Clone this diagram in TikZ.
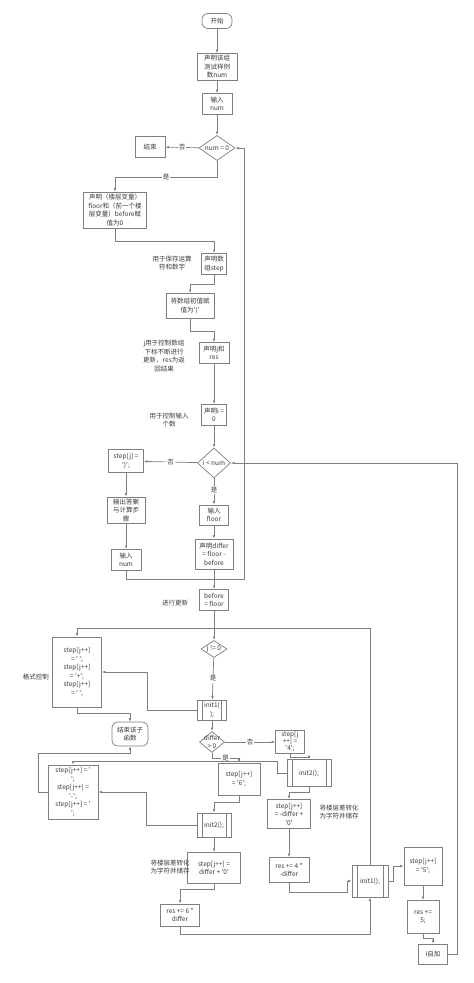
\documentclass[tikz,border=0pt]{standalone}
\usepackage{fontspec}
\setmainfont{Noto Sans CJK SC}[Ligatures=TeXOff]
\usepackage{tikz}
\usetikzlibrary{positioning,arrows.meta,calc,shapes.geometric}
\definecolor{colLinea}{HTML}{7F7F7F}
\definecolor{colTexto}{HTML}{3A3A3A}

\begin{document}
\begin{tikzpicture}[
  x=1pt, y=-1pt,
  font=\fontsize{6.5}{8.5}\selectfont,
  text=colTexto,
  >={Latex[length=3.5pt,width=2.6pt]},
  sz/.style 2 args={minimum width=#1pt, minimum height=#2pt},
  box/.style={
    rectangle, draw=colLinea, fill=white, line width=0.7pt,
    align=center, inner sep=1pt
  },
  term/.style={box, rounded corners=6pt},
  decision/.style={diamond, draw=colLinea, fill=white, line width=0.7pt, inner sep=0pt},
  subproc/.style={
    box,
    path picture={
      \draw[colLinea, line width=0.7pt]
        ([xshift=5pt]path picture bounding box.north west) -- ([xshift=5pt]path picture bounding box.south west)
        ([xshift=-5pt]path picture bounding box.north east) -- ([xshift=-5pt]path picture bounding box.south east);
    }
  },
  note/.style={align=center, inner sep=0pt},
  yn/.style={fill=white, inner sep=1pt},
  arr/.style={->, draw=colLinea, line width=0.7pt}
]
  \useasboundingbox (0,0) rectangle (474,983);

  % entrada
  \node[term, sz={30}{15}] (start) at (217,21) {开始};
  \node[box, sz={40}{27}] (decl) at (217,67) {声明该组\\测试样例\\数num};
  \node[box, sz={30}{21}] (inpnum) at (217,104) {输入\\num};
  \node[decision, sz={36}{25}, label=center:{num = 0}] (dnum) at (217,148) {};
  \node[box, sz={30}{21}] (fin) at (150,147) {结束};

  % variables
  \node[box, sz={63}{36}] (declfloor) at (115,210) {声明（楼层变量）\\floor和（前一个楼\\层变量）before赋\\值为0};
  \node[box, sz={25}{21}] (declstep) at (214,264) {声明数\\组step};
  \node[note] (noteStep) at (172,263) {用于保存运算\\符和数字};
  \node[box, sz={48}{25}] (initstep) at (190,306) {将数组初值赋\\值为'('};
  \node[box, sz={30}{21}] (declj) at (214,353) {声明j和\\res};
  \node[note] (noteJ) at (164,356) {j用于控制数组\\下标不断进行\\更新，res为返\\回结果};
  \node[box, sz={25}{21}] (decli) at (214,415) {声明i =\\0};
  \node[note] (noteI) at (169,420) {用于控制输入\\个数};

  % bucle i < num
  \node[decision, sz={33}{30}, label=center:{i < num}] (dinum) at (214,463) {};
  \node[box, sz={35}{23}] (stepclose) at (126,461) {step[j] =\\')';};
  \node[box, sz={38}{26}] (output) at (126,510) {输出答案\\与计算步\\骤};
  \node[box, sz={30}{21}] (inpnum2) at (126,560) {输入\\num};
  \node[box, sz={29}{20}] (inpfloor) at (214,515) {输入\\floor};
  \node[box, sz={38}{30}] (differ) at (214,554) {声明differ\\= floor -\\before};
  \node[box, sz={29}{21}] (before) at (214,600) {before\\= floor};
  \node[note] (noteUpd) at (175,603) {进行更新};
  \coordinate (loopNum) at (244,579);

  % j != 0
  \node[decision, sz={26}{17}, label=center:{j != 0}] (djz) at (214,649) {};
  \node[subproc, sz={29}{20}] (init1a) at (212,710) {init1(\\);};
  \node[box, sz={49}{70}] (fmt) at (77,672) {step[j++]\\= ' ';\\step[j++]\\= '+';\\step[j++]\\= ' ';};
  \node[note] (noteFmt) at (36,677) {格式控制};
  \node[term, sz={36}{24}] (endsub) at (130,734) {结束该子\\函数};
  \coordinate (loopInit) at (370,628);

  % differ > 0
  \node[decision, sz={25}{21}, label={[align=center]center:{differ\\> 0}}] (dpos) at (212,742) {};
  \node[box, sz={29}{21}, font=\fontsize{6.5}{7}\selectfont] (step4) at (290,742) {step[j\\++] =\\'4';};
  \node[subproc, sz={44}{27}] (init2a) at (309,773) {init2();};
  \node[box, sz={42}{32}] (step6) at (239,779) {step[j++]\\= '6';};
  \node[box, sz={43}{29}] (stepneg) at (289,814) {step[j++]\\= -differ +\\'0'};
  \node[note, align=left] (noteNeg) at (339,812) {将楼层差转化\\为字符并储存};
  \node[subproc, sz={34}{24}] (init2b) at (214,825) {init2();};
  \node[box, sz={50}{54}] (stepleft) at (73,792) {step[j++] = '\\';\\step[j++] =\\'-';\\step[j++] = '\\';};
  \node[box, sz={53}{31}] (stepdif) at (214,868) {step[j++] =\\differ + '0'};
  \node[note] (noteDif) at (170,867) {将楼层差转化\\为字符并储存};
  \node[box, sz={39}{22}] (res6) at (180,915) {res += 6 *\\differ};
  \node[box, sz={40}{25}] (res4) at (289,870) {res += 4 *\\-differ};
  \node[subproc, sz={36}{32}] (init1b) at (370,881) {init1();};
  \node[box, sz={38}{38}] (step5) at (423,866) {step[j++]\\= '5';};
  \node[box, sz={32}{33}] (res5) at (423,917) {res +=\\5;};
  \node[box, sz={29}{20}] (iinc) at (433,954) {i自加};

  % conexiones
  \draw[arr] (start) -- (decl);
  \draw[arr] (decl) -- (inpnum);
  \draw[arr] (inpnum) -- (dnum);
  \draw[arr] (dnum) -- node[yn] (no1) {否} (fin);
  \draw[arr] (dnum.south) -- ++(0,16) -| node[yn, pos=0.25] (yes1) {是} (declfloor.north);
  \draw[arr] (declfloor.south) -- ++(0,13) -| (declstep.north);
  \draw[arr] (declstep.south) -- ++(0,9) -| (initstep.north);
  \draw[arr] (initstep.south) -- ++(0,12) -| (declj.north);
  \draw[arr] (declj) -- (decli);
  \draw[arr] (decli) -- (dinum);
  \draw[arr] (dinum) -- node[yn] (no2) {否} (stepclose);
  \draw[arr] (dinum) -- node[yn, pos=0.45] (yes2) {是} (inpfloor);
  \draw[arr] (stepclose) -- (output);
  \draw[arr] (output) -- (inpnum2);
  \draw[arr] (inpnum2.south) |- (loopNum) |- (dnum.east);
  \draw[arr] (inpfloor) -- (differ);
  \draw[arr] (differ) -- (before);
  \draw[arr] (before) -- (djz);
  \draw[arr] (init1b.north) -- (loopInit) -| (fmt.north);
  \draw[arr] (djz) -- node[yn] (yes3) {是} (init1a);
  \draw[arr] (init1a.west) -- ++(-50,0) |- (fmt.east);
  \draw[arr] (fmt.south) -- ++(0,6) -| (endsub.north);
  \draw[arr] (init1a) -- (dpos);
  \draw[arr] (dpos) -- node[yn] (no3) {否} (step4);
  \draw[arr] (dpos.south) -- ++(0,5) -| node[yn, pos=0.25] (yes4) {是} (step6.north);
  \draw[arr] (step4.south) -- ++(0,4) -| (init2a.north);
  \draw[arr] (init2a.west) -- ++(-9,0) -- ++(0,-12) -| (stepleft.north);
  \draw[arr] (init2a.south) -- ++(0,5) -| (stepneg.north);
  \draw[arr] (step6.south) -- ++(0,7) -| (init2b.north);
  \draw[arr] (init2b.west) -- ++(-50,0) |- (stepleft.east);
  \draw[arr] (stepleft.west) -- ++(-9,0) -- ++(0,-39) -| (endsub.south);
  \draw[arr] (init2b) -- (stepdif);
  \draw[arr] (stepdif.south) -- ++(0,5) -| (res6.north);
  \draw[arr] (res6.south) -- ++(0,8) -| (init1b.south);
  \draw[arr] (stepneg) -- (res4);
  \draw[arr] (res4.south) |- ++(58,9) |- (init1b.west);
  \draw[arr] (init1b.east) -- ++(5,0) |- (step5.west);
  \draw[arr] (step5) -- (res5);
  \draw[arr] (res5.south) -- ++(0,4) -| (iinc.north);
  \draw[arr] (iinc.east) -- ++(9,0) |- (dinum.east);

\end{tikzpicture}
\end{document}
